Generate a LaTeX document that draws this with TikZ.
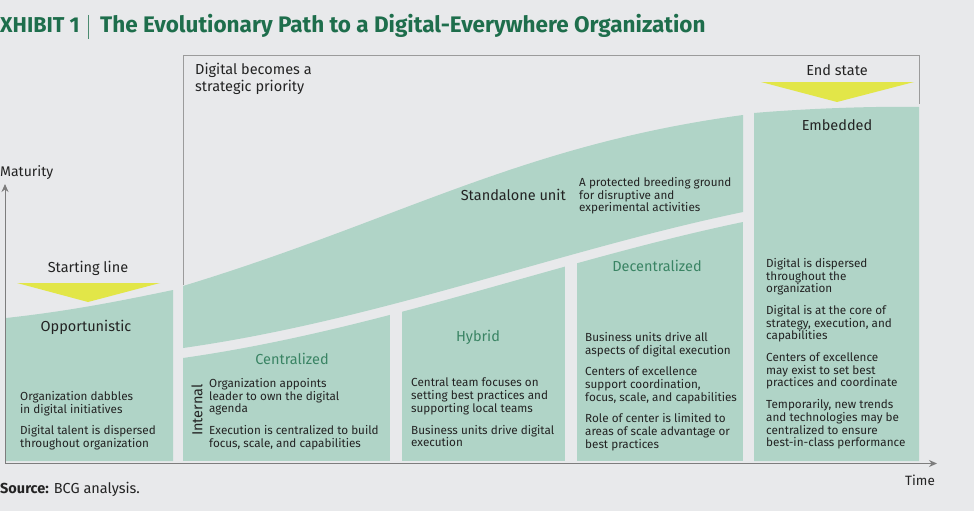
\documentclass[tikz,border=0pt]{standalone}
\usepackage{fontspec}
\setmainfont{Fira Sans}
\usetikzlibrary{arrows.meta}
\definecolor{bggrey}{RGB}{232,233,235}
\definecolor{stagefill}{RGB}{176,212,199}
\definecolor{arrowyellow}{RGB}{226,230,72}
\definecolor{titlegreen}{RGB}{30,110,76}
\definecolor{modegreen}{RGB}{58,132,100}
\definecolor{inktext}{RGB}{35,35,35}
\definecolor{rulegrey}{RGB}{155,155,155}
\definecolor{axisgrey}{RGB}{125,125,125}
\begin{document}
\begin{tikzpicture}[x=1pt,y=-1pt,inner sep=0pt]
    \tikzstyle{stage}=[font=\fontsize{14.5}{16.5}\selectfont,text=inktext]
    \tikzstyle{mode}=[font=\fontsize{14.5}{16.5}\selectfont,text=modegreen]
    \tikzstyle{desc}=[font=\fontsize{11.7}{12.7}\selectfont,text=inktext,align=left,anchor=north west]
    \tikzstyle{title}=[font=\fontsize{22.5}{26}\selectfont\bfseries,text=titlegreen,anchor=base west]
    \useasboundingbox[fill=bggrey] (0,0) rectangle (974,511);

    % title
    \node[title,font=\fontsize{21.5}{26}\selectfont\bfseries] (exh) at (0,33) {XHIBIT 1};
    \draw[titlegreen!80,line width=0.8pt] (88,15) -- (88,39);
    \node[title] (ttl) at (100,33) {The Evolutionary Path to a Digital-Everywhere Organization};

    % frame round the strategic part
    \draw[rulegrey,line width=0.8pt] (183,285) -- (183,55) -- (919,55) -- (919,104);

    % stages
    \fill[stagefill] (6,318) .. controls (70,311) and (120,301) .. (173,290) -- (173,461) -- (6,461) -- cycle;
    \fill[stagefill] (183,286) .. controls (400,220) and (520,145) .. (743,115) -- (743,212)
        .. controls (560,250) and (380,320) .. (183,348) -- cycle;
    \begin{scope}
        \clip (183,358) .. controls (380,330) and (560,260) .. (743,222) -- (743,461) -- (183,461) -- cycle;
        \foreach \l/\r in {183/390,402/565,577/743}
            \fill[stagefill] (\l,200) rectangle (\r,461);
    \end{scope}
    \fill[stagefill] (754,113) .. controls (800,109) and (870,106) .. (919,107) -- (919,461) -- (754,461) -- cycle;

    \fill[arrowyellow] (17,283) -- (160,283) -- (88,302) -- cycle;
    \fill[arrowyellow] (761,82) -- (914,82) -- (837,102) -- cycle;

    % axes
    \coordinate (orig) at (5,463.5);
    \coordinate (ytip) at (5,184);
    \coordinate (xtip) at (937,463.5);
    \draw[axisgrey,line width=1pt,-{Stealth[length=8pt,width=7pt]}] (orig) -- (ytip);
    \draw[axisgrey,line width=1pt,-{Stealth[length=8pt,width=7pt]}] (orig) -- (xtip);
    \node[stage,anchor=west,font=\fontsize{14}{16}\selectfont] (mat) at (0,173) {Maturity};
    \node[stage,anchor=west,font=\fontsize{13.5}{16}\selectfont] (time) at (905,480) {Time};

    % labels
    \node[stage] (start) at (88,268) {Starting line};
    \node[stage] (opp) at (86,327) {Opportunistic};
    \node[stage,align=left,anchor=north west] (prio) at (195,63) {Digital becomes a\\strategic priority};
    \node[stage,anchor=east] (alone) at (566,195) {Standalone unit};
    \node[stage] (endst) at (837,70) {End state};
    \node[stage] (emb) at (837,125) {Embedded};
    \node[mode] (cen) at (292,359) {Centralized};
    \node[mode] (hyb) at (478,337) {Hybrid};
    \node[mode] (dec) at (657,266) {Decentralized};
    \node[stage,rotate=90] (int) at (197,410) {Internal};

    % descriptions
    \node[desc] (alonetxt) at (579,177) {A protected breeding ground\\for disruptive and\\experimental activities};
    \node[desc] (opptxt) at (20,391) {Organization dabbles\\in digital initiatives\\[9pt]Digital talent is dispersed\\throughout organization};
    \node[desc] (centxt) at (209,378) {Organization appoints\\leader to own the digital\\agenda\\[9pt]Execution is centralized to build\\focus, scale, and capabilities};
    \node[desc] (hybtxt) at (411,378) {Central team focuses on\\setting best practices and\\supporting local teams\\[9pt]Business units drive digital\\execution};
    \node[desc] (dectxt) at (585,332) {Business units drive all\\aspects of digital execution\\[9pt]Centers of excellence\\support coordination,\\focus, scale, and capabilities\\[9pt]Role of center is limited to\\areas of scale advantage or\\best practices};
    \node[desc] (embtxt) at (766,258) {Digital is dispersed\\throughout the\\organization\\[9pt]Digital is at the core of\\strategy, execution, and\\capabilities\\[9pt]Centers of excellence\\may exist to set best\\practices and coordinate\\[9pt]Temporarily, new trends\\and technologies may be\\centralized to ensure\\best-in-class performance};

    \node[anchor=base west,font=\fontsize{14.5}{16}\selectfont,text=inktext] (src) at (0,493) {\textbf{Source:} BCG analysis.};
\end{tikzpicture}
\end{document}
